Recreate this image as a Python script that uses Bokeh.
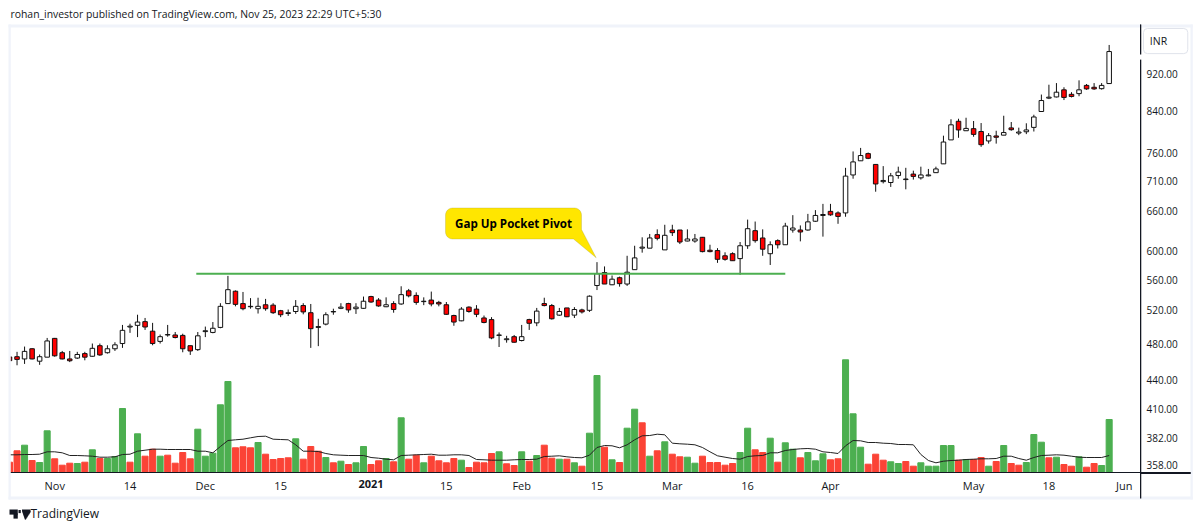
from bokeh.plotting import figure
from bokeh.embed import file_html
from bokeh.resources import INLINE
from bokeh.models import (Range1d, LinearScale, FixedTicker, NumeralTickFormatter, Label,
                          PolyAnnotation)
import math

opens = [464.7,465,462.5,474,460,464.5,486,469.5,462.5,463.5,468.5,465.5,477.5,469.5,474,480,499.5,501.5,506,494.5,482.5,490,490,489.5,477.5,473,494,493,499,528.5,
 544.5,528.5,524.5,522,527,526.5,519.5,516,518.5,526,517,499,503,518,522.5,528.5,522,522.5,537.5,533,524.5,528.5,528,545,539,531,533,530,527,513.5,
 507,524,521.5,510.5,508.5,489.5,484.5,488,483.5,508.5,504.5,528.5,526,514,523,514,520.5,520,552,569.5,553,562.5,554,573.5,604,604,624,601.5,631,631,
 614.5,614.5,620,601,600.5,593,596,589,607.5,630,619,596,615,609,631,631,631,644.5,653.5,660,657.5,657.5,720.5,745.5,758.5,739,709,707.5,719.5,712.5,
 722,715.5,719,724.5,740,784,820,801.5,805.5,800,782,791.5,793,807,797,799.5,808,839.5,867,869.5,884.5,875,876.5,894,890,887,898]
highs = [464.7,470.5,476.5,474.5,467.5,486.5,486.5,471.5,471.5,470.5,470.5,480,480,478,481.5,502,503.5,514.5,510.5,504.5,490.5,502,493.5,491.5,477.5,493.5,500,505.5,529,565,
 545.5,543.5,535.5,536,534.5,529,520.5,521,533,529,528,509.5,517.5,522,529,529.5,529,537.5,538.5,535.5,536.5,531.5,551,547.5,543,536.5,544,532,530.5,514.5,
 524,525,526.5,513.5,511.5,493,489,490,502,509.5,523,536,528,523,523,524,522,539,584,578,565.5,564,593,607.5,620,625,632,639,639,631,
 632,625,620.5,609,604,598,598,613,647,644,632,614,617,642,654,638,656,662,672,672,660,733,762.5,769,760.5,739,736,724,735,733,
 728,735,731,735,792,824,825,827,820.5,816.5,797,801.5,831,818.5,807.5,816,833,874.5,895.5,899,890,879.5,905,897,899,899,985.5]
lows = [460.6,455.5,457,462,456,464.5,465,462,459,462.5,461,465,466,468.5,471.5,475,492.5,487.5,496,478,480,488,486,470,467,471.5,487.5,492,498,528.5,
 525,520,522,516,519.5,515.5,511.5,513,515.5,515,475,477,501.5,514.5,521.5,517,515.5,522,529.5,524.5,524,517,527,536.5,527,526.5,525,525,514.5,501,
 506.5,517,511.5,504,485,476,481,481,482.5,496,500.5,525,508.5,513,511.5,510.5,516,518,546,554,552.5,550.5,551.5,573.5,597.5,604,615.5,601.5,622,610,
 614,612,598,598,583,586,586,566.5,603,612,593,580,603.5,609,627,614,630,643.5,621,653,640.5,651.5,714,745.5,748.5,692,706,700,714,696,
 712.5,712.5,718,724,740,784,788,801.5,790,771,777,777,793,801.5,793,795,800,839,865,868.5,863,868.5,871,884.5,884.5,885,897]
closes = [460.6,462,471,462.5,465,483,466,462.5,460.5,467.5,464.5,474.5,467,474,478.5,495.5,500.5,505.5,499.5,480,488,490.5,487,474,471.5,489,495,498,525,546.5,
 527.5,522,525,525,522,517,514.5,517,525,518,497.5,500,514.5,518.5,524,520.5,524,531.5,530.5,525.5,527,521,540,538.5,530,531.5,528,528,515,505.5,
 521.5,518.5,515,505,486.5,490,485.5,481.5,488,504,519,526,509.5,518.5,512,521,518,538,568,554,560.5,554.5,570,590,605.5,619,618.5,623,627,613,
 617.5,617.5,599,599,588,588,586,607.5,633,615,602.5,609,609,637,634,628,643.5,653.5,655,654.5,652,718.5,743.5,755,750,705,711,719,725.5,713.5,
 718,720.5,720.5,731,780,813,803,806,794.5,775,792,789,798,803.5,799,803,828.5,862,869,879.5,868.5,870.5,884.5,886.5,886.5,894,970]
volumes = [10.3,21.7,27.3,12,10,41.7,13.7,7.3,9.3,9,10.3,22.7,14,14,16,64,10.3,38.7,16.3,23.3,16.3,17.3,9.3,20,13.7,43.3,16.3,19.3,67.7,91,
 24.7,25.7,24.7,30,18.3,13,14,14.7,33.7,13.3,26,21.3,15,9.7,11.3,8,9.7,26,8,11.7,14,10.7,54.7,13.3,17.3,9.7,16.3,11.7,9.7,14,
 12.3,5,10.3,9.7,19,20.7,8.7,7,20.7,11.3,17,27.3,14.3,13.3,13.3,9.7,6.3,39.3,97,25.3,12.7,10,44.3,63.3,49.7,16.3,21.7,30.7,18.3,15.7,
 15.3,9.3,16.3,10,10,7.3,9,20,44.3,22.7,20,34.3,10.3,29.7,23.3,14.7,20,11.7,18.7,12.7,13.7,112.7,58.7,25.3,8.3,18.3,12.3,10.7,9,11,
 6.3,9.7,6.3,6.3,27,27,12.3,13,13,15,6.3,11,27,9,7.3,10,38,30.3,14.7,15.3,8,6.3,15.7,5.3,9,7,53]
volume_ma = [17.7,17.7,18,18,18.3,20.7,20.7,19.7,17,17,16.7,16.3,15.3,15.3,15.7,18,18.3,21.3,22.3,23.3,23.3,23,23,23,23,21.3,21.3,19.7,26,32,
 32.7,33.3,34.7,36,36.3,33.3,33,32.7,27.7,21.3,21.3,21,19,17.7,17.3,17,17,17,15,14.3,13.3,12.7,17,17.3,17.7,18,18.3,17.3,17.3,17.7,
 17.7,17,13,12.7,12.3,12.3,12.3,12.7,13,13,13.3,16,16.3,16.7,15.7,15,14.7,17.3,25,27,26.7,24.7,27.7,32.7,36.7,37,38.3,37.7,29.3,28.7,
 28.3,27.7,25,20.7,16.7,15.3,14,13.3,16,16.7,17,19.7,19.7,22,23,23.7,24,23.3,20.7,20,19,26.7,32,31.7,30,30,29.3,29,28,28,
 27.7,18,12,9.7,11.3,12,12.3,13,13.3,13.7,13.7,14,16.3,16.3,14,12.3,15,17,17.3,17.7,17.3,16.3,15.3,15,15,15,17]
# direction of each volume bar: r = down day, g = up day
volume_dir_a = "rrgrggrrrgrgrgggrgrrgrrrrgggggrrrgrrrrg"
volume_dir_b = "rrrgrgrggrrgrgrrgrrrrgrrrrgrrgrgrrgrgrgg"
volume_dir_c = "rgrggrgrgrrggrrrrrggrrgrggrgggrrgggrrrgg"
volume_dir_d = "rrgggggrgrrgrgrrgggrgrrgrrgg"
volume_dir = list(volume_dir_a + volume_dir_b + volume_dir_c + volume_dir_d)

tick_idx = [6, 16, 26, 36, 48, 58, 68, 78, 88, 98, 109, 128, 138, 148]
tick_lbl = ["Nov", "14", "Dec", "15", "", "15", "Feb", "15", "Mar", "16", "Apr", "May", "18", "Jun"]
price_ticks = [358, 382, 410, 440, 480, 520, 560, 600, 660, 710, 760, 840, 920]
pivot_level = 568
pivot_start, pivot_end = 24.8, 103

idx = list(range(len(opens)))
W, H = 1196, 525
FL, FT, FW, FH = 9, 24, 1131, 448   # frame inset
p = figure(width=W, height=H, output_backend="svg", toolbar_location=None, y_axis_type="log",
           y_axis_location="right", x_range=Range1d(0, 150.16), y_range=Range1d(351.8, 1035.3),
           min_border_left=FL, min_border_top=FT, min_border_right=W-FL-FW, min_border_bottom=H-FT-FH,
           frame_width=FW, frame_height=FH, background_fill_color="white", border_fill_color="white")
p.grid.visible = False
p.outline_line_color = None
p.extra_y_ranges = {"vol": Range1d(0, 448)}
p.extra_y_scales = {"vol": LinearScale()}

AX = "#131722"
ya = p.yaxis[0]
ya.ticker = FixedTicker(ticks=price_ticks)
ya.formatter = NumeralTickFormatter(format="0.00")
ya.major_tick_line_color = None
ya.minor_tick_line_color = None
ya.major_tick_out = 0
ya.minor_tick_out = 0
ya.major_tick_in = 0
ya.axis_line_color = AX
ya.major_label_text_color = AX
ya.major_label_text_font = "Open Sans"
ya.major_label_text_font_size = "10px"
ya.major_label_standoff = 6
xa = p.xaxis[0]
xa.ticker = FixedTicker(ticks=tick_idx)
xa.major_label_overrides = {i: l for i, l in zip(tick_idx, tick_lbl)}
xa.major_tick_line_color = None
xa.minor_tick_line_color = None
xa.major_tick_out = 0
xa.minor_tick_out = 0
xa.major_tick_in = 0
xa.axis_line_color = AX
xa.major_label_text_color = AX
xa.major_label_text_font = "Open Sans"
xa.major_label_text_font_size = "11px"
xa.major_label_standoff = 5

# volume pane
vcol = ["#4caf50" if d == "g" else "#fb4336" for d in volume_dir]
p.vbar(x=idx, top=volumes, bottom=0, width=0.8, color=vcol, y_range_name="vol")
p.line(idx, volume_ma, color="#222222", line_width=1, y_range_name="vol")

# candles
p.segment(idx, highs, idx, lows, color="#111111", line_width=1)
fills = ["#ffffff" if c >= o else "#ff0000" for o, c in zip(opens, closes)]
p.vbar(x=idx, top=[max(a, b) for a, b in zip(opens, closes)], bottom=[min(a, b) for a, b in zip(opens, closes)],
       width=0.6, fill_color=fills, line_color="#111111", line_width=1)

# pivot line
p.line([pivot_start, pivot_end], [pivot_level, pivot_level], color="#4caf50", line_width=2)

def label(px, py, text, side="center", **kw):
    p.add_layout(Label(x=px, y=py, x_units="canvas", y_units="canvas", text=text, level="overlay", **kw), side)
def box(l, t, r, b, color, line_color=None, radius=0):
    # a blank label drawn only through its background box: the one annotation that may leave the frame
    w, h = max(1, int(round(r - l))), max(1, int(round(b - t)))
    p.add_layout(Label(x=l, y=t, x_units="canvas", y_units="canvas", text=" ", level="overlay",
                       text_font_size="1px", text_align="left", text_baseline="top", anchor="top_left",
                       padding=(0, w, 0, h), background_fill_color=color, background_fill_alpha=1,
                       border_line_color=line_color, border_radius=radius), "below")
def poly(pts, fill, line=None, lw=1):
    p.add_layout(PolyAnnotation(xs=[a for a, _ in pts], ys=[b for _, b in pts], xs_units="canvas", ys_units="canvas",
                                fill_color=fill, fill_alpha=1, line_color=line, line_width=lw, level="overlay"))
def rounded(l, t, r, b, rad, n=6):
    pts = []
    for cx, cy, a0 in [(r-rad, t+rad, -90), (r-rad, b-rad, 0), (l+rad, b-rad, 90), (l+rad, t+rad, 180)]:
        for k in range(n+1):
            a = math.radians(a0 + 90*k/n)
            pts.append((cx+rad*math.cos(a), cy+rad*math.sin(a)))
    return pts

# chrome
BORDER = "#f0f3fa"
box(8, 24, 1192, 26, BORDER); box(8, 496, 1192, 498, BORDER); box(8, 24, 10, 498, BORDER); box(1190, 24, 1192, 498, BORDER)
box(1139.5, 24, 1140.5, 497, AX)
box(1140, 471.5, 1190, 472.5, AX)
box(1137, 54, 1142, 58, "#ffffff")
box(1143, 28, 1187, 52, "#ffffff", line_color="#e0e3eb", radius=4)
label(1158, 40, "INR", side="right", text_font="Open Sans", text_font_size="10.5px", text_color=AX, text_align="center", text_baseline="middle")
label(370.5, 483, "2021", side="below", text_font="Open Sans", text_font_size="11px", text_font_style="bold", text_color=AX, text_align="center", text_baseline="middle")

# callout
rr = rounded(445, 207.5, 581, 238.5, 7)
shape = rr[:7] + [(581, 229), (595.7, 257.3), (573, 238.5)] + rr[14:]
poly(shape, "#ffe600", "#a39c3e", 1)
label(513, 222.5, "Gap Up Pocket Pivot", text_font="Open Sans", text_font_size="11.6px", text_font_style="bold",
      text_color="#000000", text_align="center", text_baseline="middle")

# header / footer
label(10, 13, "rohan_investor published on TradingView.com, Nov 25, 2023 22:29 UTC+5:30", side="above", text_font="Open Sans",
      text_font_size="10.4px", text_color="#131722", text_baseline="middle")
label(30, 513, "TradingView", side="below", text_font="Open Sans", text_font_size="12px", text_color="#131722", text_baseline="middle")
# footer logo, built from small rectangles
box(9, 509, 17.5, 513, "#131722")
box(13, 513, 17.5, 517.5, "#131722")
box(18, 509.5, 20.5, 512, "#131722")
for row in range(9):
    box(21.5 + row * 0.35, 509 + row, 30 - row * 0.55, 510 + row, "#131722")

assert len({len(opens),len(highs),len(lows),len(closes),len(volumes),len(volume_ma),len(volume_dir)})==1, (len(volume_dir_a), len(volume_dir_b), len(volume_dir_c), len(volume_dir_d))
open("out.html", "w").write(file_html(p, INLINE))
